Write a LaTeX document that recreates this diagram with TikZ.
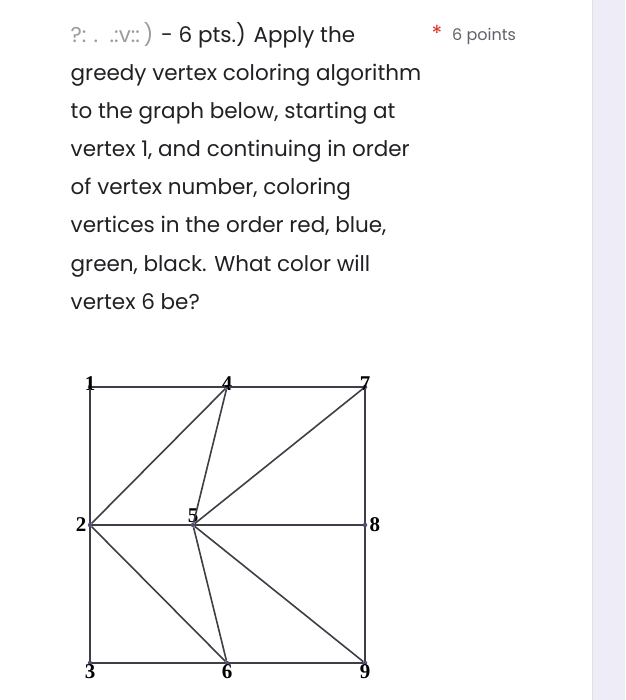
\documentclass[tikz,border=0pt]{standalone}
\usepackage{fontspec}
\setmainfont{Poppins}
\newfontfamily\labelfont{Liberation Serif}
\usetikzlibrary{positioning}

\begin{document}
\begin{tikzpicture}[x=1pt,y=-1pt,every node/.style={inner sep=0pt}]

    % Colors
    \definecolor{qtext}{RGB}{32,33,36}
    \definecolor{qgray}{RGB}{95,99,104}
    \definecolor{qred}{RGB}{217,48,37}
    \definecolor{edgegray}{RGB}{62,62,70}
    \definecolor{dotblue}{RGB}{78,78,118}
    \definecolor{sidebar}{RGB}{238,236,246}

    \tikzset{
      qline/.style={anchor=base west,text=qtext,font=\fontsize{21.5}{21.5}\selectfont},
      vertex/.style={circle,fill=dotblue,minimum size=4.5pt},
      vlabel/.style={font=\labelfont\bfseries\fontsize{21}{21}\selectfont,inner sep=0pt},
      edge/.style={draw=edgegray,line width=1.6pt}
    }

    % ======================
    % Page
    % ======================
    \useasboundingbox (0,0) rectangle (625,700);
    \fill[white] (0,0) rectangle (592,700);
    \fill[sidebar] (592,0) rectangle (625,700);
    \draw[black!12,line width=1pt] (592,0) -- (592,700);

    % ======================
    % Question text
    % ======================
    \node[qline] (l1) at (70.5,43) {\textcolor{qtext!45}{?:\,\,.\ \ .:v::\,)} - 6 pts.) Apply the};
    \node[qline] (l2) at (70.5,81) {greedy vertex coloring algorithm};
    \node[qline] (l3) at (70.5,119) {to the graph below, starting at};
    \node[qline] (l4) at (70.5,157) {vertex 1, and continuing in order};
    \node[qline] (l5) at (70.5,195) {of vertex number, coloring};
    \node[qline] (l6) at (70.5,233) {vertices in the order red, blue,};
    \node[qline] (l7) at (70.5,271) {green, black. What color will};
    \node[qline] (l8) at (70.5,309) {vertex 6 be?};

    % star and points
    \node[text=qred,font=\fontsize{22}{22}\selectfont] (star) at (437,33) {*};
    \node[anchor=base west,text=qgray,font=\fontsize{16}{16}\selectfont] (pts) at (452,41) {6 points};

    % ======================
    % Graph
    % ======================
    % top row
    \node[vertex,label={[vlabel,label distance=-6pt]above:1}] (v1) at (90,387) {};
    \node[vertex,label={[vlabel,label distance=-6pt]above:4}] (v4) at (227,387) {};
    \node[vertex,label={[vlabel,label distance=-6pt]above:7}] (v7) at (365,387) {};
    % middle row
    \node[vertex,label={[vlabel,label distance=1pt]left:2}] (v2) at (90,525) {};
    \node[vertex,label={[vlabel,label distance=0pt]above:5}] (v5) at (193,525) {};
    \node[vertex,label={[vlabel,label distance=2pt]right:8}] (v8) at (365,525) {};
    % bottom row
    \node[vertex,label={[vlabel,label distance=-1pt]below:3}] (v3) at (90,663) {};
    \node[vertex,label={[vlabel,label distance=-1pt]below:6}] (v6) at (227,663) {};
    \node[vertex,label={[vlabel,label distance=-1pt]below:9}] (v9) at (365,663) {};

    % outer square
    \draw[edge] (v1) -- (v4);
    \draw[edge] (v4) -- (v7);
    \draw[edge] (v7) -- (v8);
    \draw[edge] (v8) -- (v9);
    \draw[edge] (v9) -- (v6);
    \draw[edge] (v6) -- (v3);
    \draw[edge] (v3) -- (v2);
    \draw[edge] (v2) -- (v1);

    % inner edges
    \draw[edge] (v2) -- (v4);
    \draw[edge] (v4) -- (v5);
    \draw[edge] (v5) -- (v7);
    \draw[edge] (v2) -- (v5);
    \draw[edge] (v5) -- (v8);
    \draw[edge] (v2) -- (v6);
    \draw[edge] (v5) -- (v6);
    \draw[edge] (v5) -- (v9);

  \end{tikzpicture}
\end{document}
